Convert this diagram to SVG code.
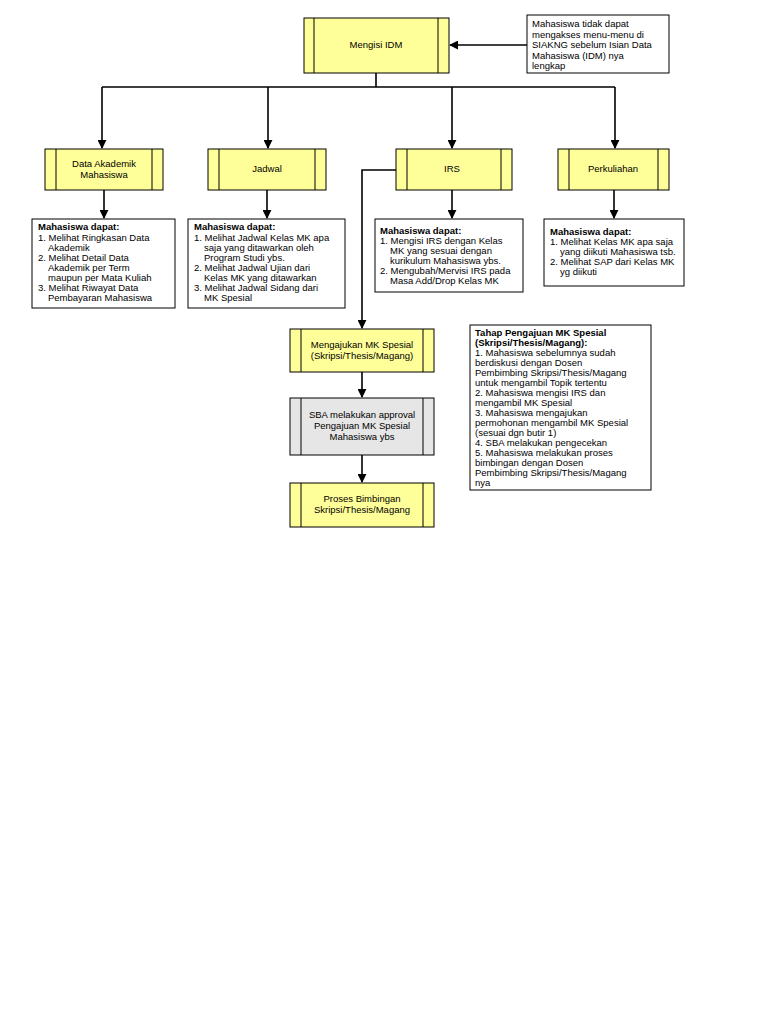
<svg xmlns="http://www.w3.org/2000/svg" width="768" height="1024" viewBox="0 0 768 1024">
<style>
.p{fill:#ffff99;stroke:#000;stroke-width:1}
.g{fill:#e6e6e6;stroke:#000;stroke-width:1}
.b{fill:#fff;stroke:#000;stroke-width:1}
.l{stroke:#000;stroke-width:1}
.c{fill:none;stroke:#000;stroke-width:1.6}
text{font-family:"Liberation Sans",Arial,sans-serif;font-size:9.5px;fill:#000}
.m{text-anchor:middle}
.h{font-weight:bold}
</style>
<defs><marker id="a" viewBox="0 0 10 10" refX="9" refY="5" markerWidth="6" markerHeight="6" orient="auto" markerUnits="userSpaceOnUse"><path d="M0,0L10,5L0,10z"/></marker>
<marker id="ah" viewBox="0 0 10 10" refX="9" refY="5" markerWidth="9" markerHeight="9" orient="auto" markerUnits="userSpaceOnUse"><path d="M0,0L10,5L0,10z"/></marker></defs>
<rect width="768" height="1024" fill="#fff"/>
<g id="connectors">
<path class="c" d="M376,73V87M102,87H615" />
<path class="c" d="M102,87V148" marker-end="url(#ah)"/>
<path class="c" d="M268,87V148" marker-end="url(#ah)"/>
<path class="c" d="M452,87V148" marker-end="url(#ah)"/>
<path class="c" d="M615,87V148" marker-end="url(#ah)"/>
<path class="c" d="M527,45H450" stroke-width="1" marker-end="url(#ah)"/>
<path class="c" d="M104,190V218" marker-end="url(#ah)"/>
<path class="c" d="M267,190V218" marker-end="url(#ah)"/>
<path class="c" d="M452,190V218" marker-end="url(#ah)"/>
<path class="c" d="M614,190V218" marker-end="url(#ah)"/>
<path class="c" d="M396,170H362V328" stroke-width="1" marker-end="url(#ah)"/>
<path class="c" d="M362,372V397" marker-end="url(#ah)"/>
<path class="c" d="M362,455V482" marker-end="url(#ah)"/>
</g>
<g id="idm"><rect class="p" x="304" y="18" width="145" height="55"/><path class="l" d="M314,18V73M438,18V73"/><text class="m" x="376" y="48">Mengisi IDM</text></g>
<g id="note"><rect class="b" x="527" y="15" width="142" height="58"/><text x="532" y="27">Mahasiswa tidak dapat</text><text x="532" y="37.5">mengakses menu-menu di</text><text x="532" y="48">SIAKNG sebelum Isian Data</text><text x="532" y="58.5">Mahasiswa (IDM) nya</text><text x="532" y="69">lengkap</text></g>
<g id="data"><rect class="p" x="45" y="149" width="118" height="41"/><path class="l" d="M56,149V190M152,149V190"/><text class="m" x="104" y="167">Data Akademik</text><text class="m" x="104" y="178">Mahasiswa</text></g>
<g id="jadwal"><rect class="p" x="208" y="149" width="118" height="41"/><path class="l" d="M219,149V190M315,149V190"/><text class="m" x="267" y="172">Jadwal</text></g>
<g id="irs"><rect class="p" x="396" y="149" width="116" height="41"/><path class="l" d="M407,149V190M501,149V190"/><text class="m" x="452" y="172">IRS</text></g>
<g id="perk"><rect class="p" x="558" y="149" width="111" height="41"/><path class="l" d="M569,149V190M658,149V190"/><text class="m" x="613" y="172">Perkuliahan</text></g>
<g id="d1"><rect class="b" x="32" y="219" width="143" height="89"/><text x="38" y="230" class="h">Mahasiswa dapat:</text><text x="38" y="241">1. Melihat Ringkasan Data</text><text x="48" y="251">Akademik</text><text x="38" y="261">2. Melihat Detail Data</text><text x="48" y="271">Akademik per Term</text><text x="48" y="281">maupun per Mata Kuliah</text><text x="38" y="291">3. Melihat Riwayat Data</text><text x="48" y="301">Pembayaran Mahasiswa</text></g>
<g id="d2"><rect class="b" x="188" y="219" width="157" height="89"/><text x="194" y="230" class="h">Mahasiswa dapat:</text><text x="194" y="241">1. Melihat Jadwal Kelas MK apa</text><text x="204" y="251">saja yang ditawarkan oleh</text><text x="204" y="261">Program Studi ybs.</text><text x="194" y="271">2. Melihat Jadwal Ujian dari</text><text x="204" y="281">Kelas MK yang ditawarkan</text><text x="194" y="291">3. Melihat Jadwal Sidang dari</text><text x="204" y="301">MK Spesial</text></g>
<g id="d3"><rect class="b" x="375" y="219" width="148" height="73"/><text x="380" y="234" class="h">Mahasiswa dapat:</text><text x="380" y="244">1. Mengisi IRS dengan Kelas</text><text x="390" y="254">MK yang sesuai dengan</text><text x="390" y="264">kurikulum Mahasiswa ybs.</text><text x="380" y="274">2. Mengubah/Mervisi IRS pada</text><text x="390" y="284">Masa Add/Drop Kelas MK</text></g>
<g id="d4"><rect class="b" x="544" y="219" width="140" height="67"/><text x="550" y="235" class="h">Mahasiswa dapat:</text><text x="550" y="245">1. Melihat Kelas MK apa saja</text><text x="560" y="255">yang diikuti Mahasiswa tsb.</text><text x="550" y="265">2. Melihat SAP dari Kelas MK</text><text x="560" y="275">yg diikuti</text></g>
<g id="mk"><rect class="p" x="290" y="329" width="144" height="43"/><path class="l" d="M301,329V372M423,329V372"/><text class="m" x="362" y="348">Mengajukan MK Spesial</text><text class="m" x="362" y="359">(Skripsi/Thesis/Magang)</text></g>
<g id="sba"><rect class="g" x="290" y="398" width="144" height="57"/><path class="l" d="M301,398V455M423,398V455"/><text class="m" x="362" y="418">SBA melakukan approval</text><text class="m" x="362" y="429">Pengajuan MK Spesial</text><text class="m" x="362" y="440">Mahasiswa ybs</text></g>
<g id="proses"><rect class="p" x="290" y="483" width="144" height="44"/><path class="l" d="M301,483V527M423,483V527"/><text class="m" x="362" y="502">Proses Bimbingan</text><text class="m" x="362" y="513">Skripsi/Thesis/Magang</text></g>
<g id="tahap"><rect class="b" x="470" y="325" width="181" height="165"/><text x="475" y="336" class="h">Tahap Pengajuan MK Spesial</text><text x="475" y="346" class="h">(Skripsi/Thesis/Magang):</text><text x="475" y="356">1. Mahasiswa sebelumnya sudah</text><text x="475" y="366">berdiskusi dengan Dosen</text><text x="475" y="376">Pembimbing Skripsi/Thesis/Magang</text><text x="475" y="386">untuk mengambil Topik tertentu</text><text x="475" y="396">2. Mahasiswa mengisi IRS dan</text><text x="475" y="406">mengambil MK Spesial</text><text x="475" y="416">3. Mahasiswa mengajukan</text><text x="475" y="426">permohonan mengambil MK Spesial</text><text x="475" y="436">(sesuai dgn butir 1)</text><text x="475" y="446">4. SBA melakukan pengecekan</text><text x="475" y="456">5. Mahasiswa melakukan proses</text><text x="475" y="466">bimbingan dengan Dosen</text><text x="475" y="476">Pembimbing Skripsi/Thesis/Magang</text><text x="475" y="486">nya</text></g>
</svg>
